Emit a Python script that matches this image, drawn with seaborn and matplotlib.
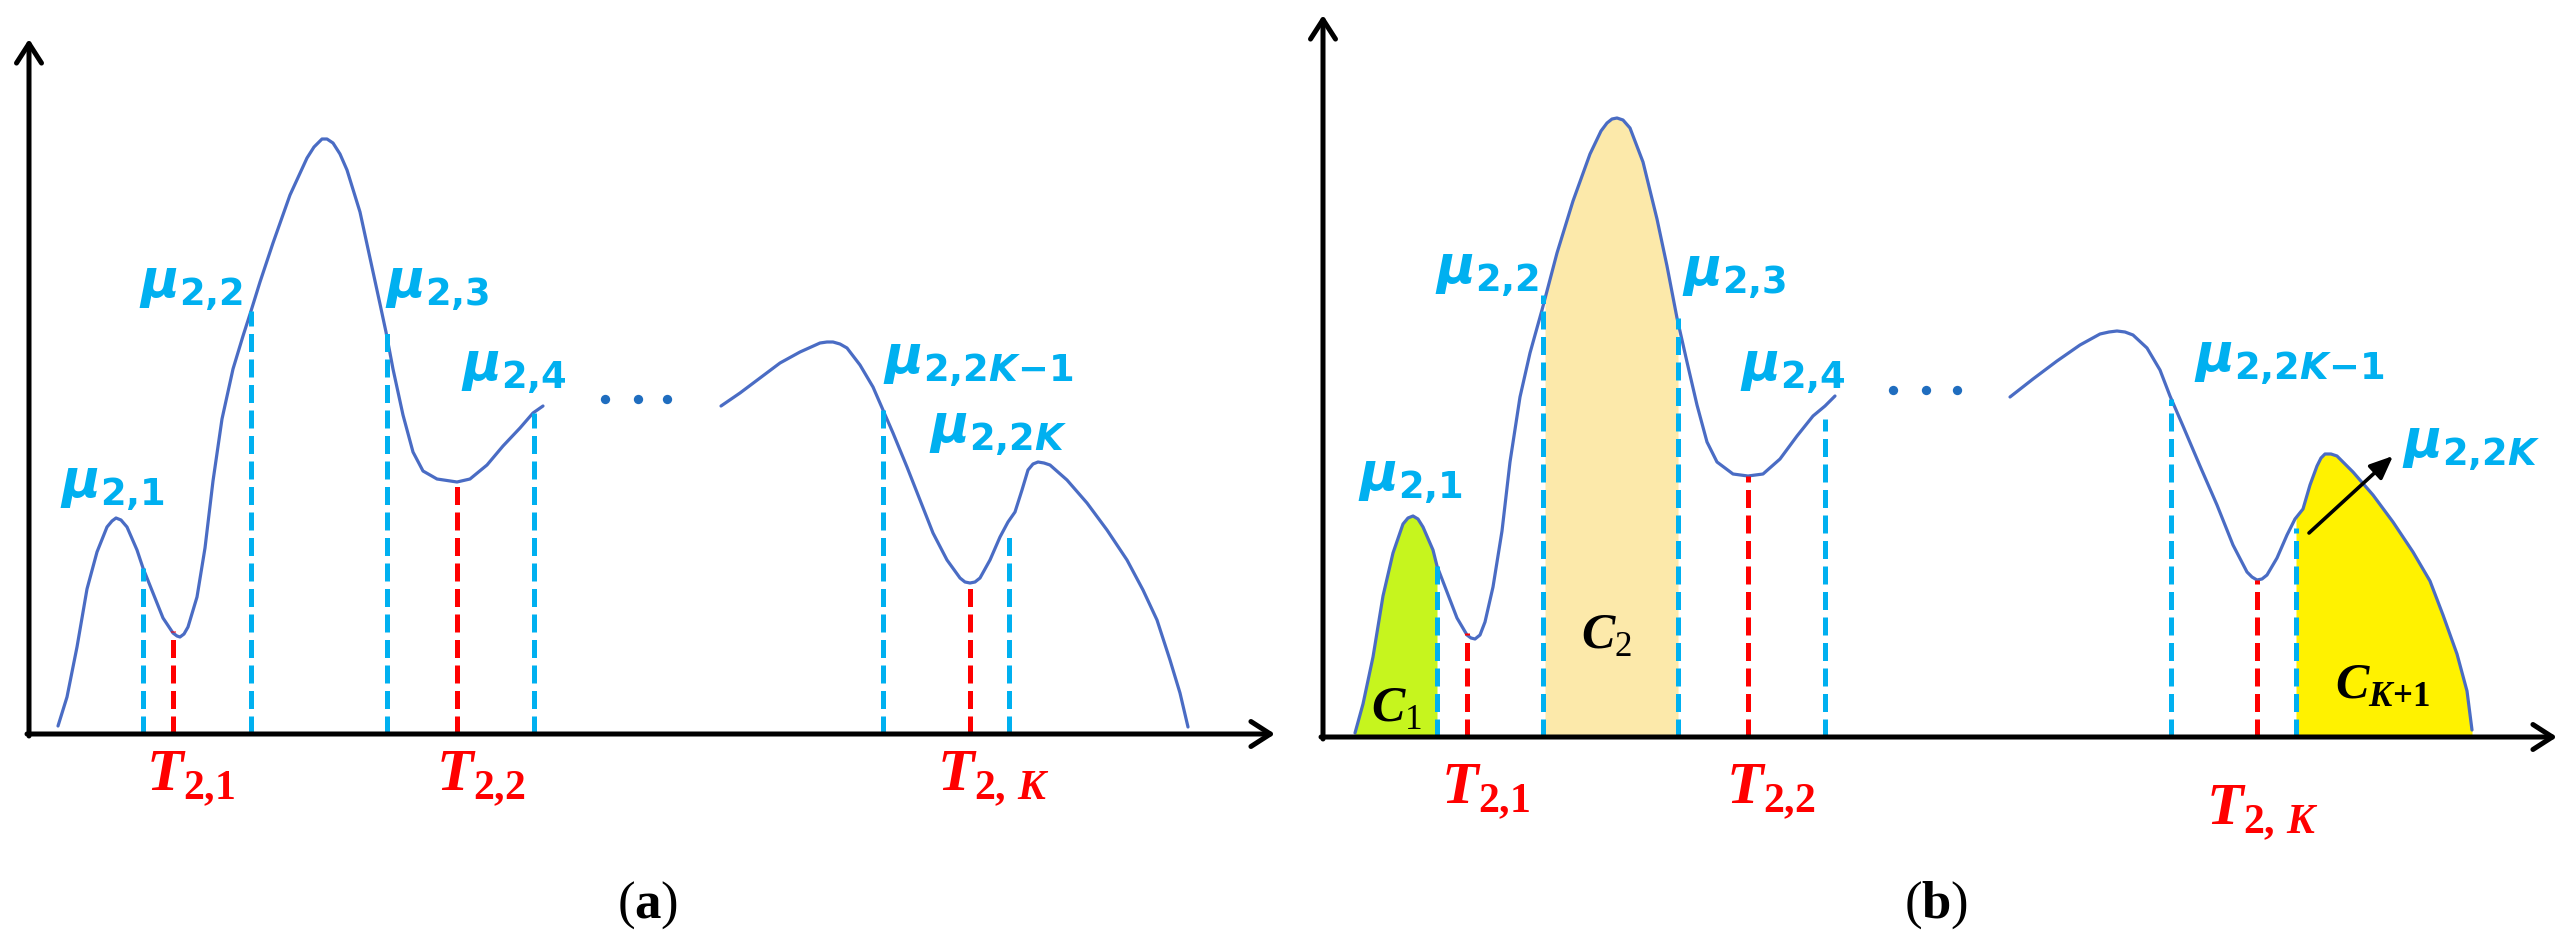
import numpy as np
import matplotlib
matplotlib.use("Agg")
import matplotlib.pyplot as plt
import seaborn as sns

sns.set_theme(style="white")
plt.rcParams["font.family"] = ["DejaVu Sans"]
plt.rcParams["mathtext.fontset"] = "custom"
plt.rcParams["mathtext.it"] = "DejaVu Sans:italic:bold"
plt.rcParams["mathtext.rm"] = "DejaVu Sans:bold"
plt.rcParams["mathtext.bf"] = "Liberation Serif:italic:bold"
plt.rcParams["mathtext.cal"] = "Liberation Serif:bold"
plt.rcParams["mathtext.tt"] = "Liberation Serif"

# ---------------- data (panel-local units: x right of y-axis, y above x-axis) ----------------
# Panel (a) curve, first segment
a_seg1_x = [29, 38, 48, 58, 68, 78, 83, 87, 92, 98, 108, 114, 124, 134, 144, 148, 151, 155, 159, 168, 176,
            184, 193, 204, 214, 222, 231, 244, 261, 278, 285, 293, 298, 304, 311, 318, 331, 341, 351, 357,
            364, 374, 384, 394, 408, 428, 441, 458, 474, 491, 504, 514]
a_seg1_y = [8, 37, 87, 145, 182, 207, 213, 216, 214, 207, 184, 166, 141, 116, 101, 98, 97, 100, 107, 137, 186,
            253, 315, 365, 398, 423, 452, 491, 539, 576, 587, 595, 595, 591, 580, 564, 522, 476, 430, 402,
            365, 319, 282, 263, 255, 252, 255, 269, 288, 306, 321, 328]
# Panel (a) curve, second segment
a_seg2_x = [692, 711, 731, 751, 771, 791, 798, 804, 811, 818, 831, 844, 854, 864, 878, 891, 904, 918, 931,
            936, 941, 946, 951, 961, 971, 979, 986, 993, 999, 1004, 1009, 1015, 1021, 1038, 1058, 1078,
            1098, 1114, 1128, 1141, 1151, 1159]
a_seg2_y = [328, 341, 356, 371, 382, 391, 392, 392, 390, 386, 369, 347, 324, 301, 267, 234, 201, 174, 156,
            152, 151, 152, 156, 174, 197, 212, 222, 244, 264, 270, 272, 271, 269, 254, 231, 204, 174, 144,
            114, 74, 41, 7]
a_mu_x = [114, 222, 358, 505, 854, 980]
a_mu_top = [166, 423, 402, 321, 324, 201]
a_T_x = [144, 428, 941]
a_T_top = [103, 253, 151]
a_dots_x = [576, 609, 638]
a_dots_y = [335, 335, 335]

# Panel (b) curve, first segment
b_seg1_x = [32, 40, 50, 60, 70, 80, 85, 90, 95, 100, 110, 114, 124, 134, 144, 148, 152, 157, 162, 170, 179,
            187, 197, 207, 219, 234, 250, 267, 278, 284, 289, 294, 300, 307, 320, 334, 344, 354, 364, 374,
            384, 394, 410, 425, 440, 457, 474, 490, 502, 512]
b_seg1_y = [4, 33, 80, 141, 184, 213, 219, 221, 218, 210, 187, 171, 145, 119, 102, 99, 98, 102, 115, 150, 206,
            275, 340, 384, 427, 484, 536, 583, 606, 614, 618, 619, 617, 609, 575, 518, 471, 419, 375, 332,
            295, 275, 263, 261, 263, 278, 301, 321, 331, 341]
# Panel (b) curve, second segment
b_seg2_x = [687, 710, 734, 757, 777, 786, 794, 802, 810, 824, 837, 847, 860, 877, 894, 910, 924, 929, 934,
            939, 944, 954, 964, 972, 980, 987, 994, 998, 1002, 1008, 1014, 1030, 1050, 1070, 1090, 1107,
            1120, 1134, 1144, 1149]
b_seg2_y = [340, 358, 376, 392, 403, 405, 406, 405, 402, 389, 367, 341, 311, 271, 232, 192, 165, 160, 157,
            158, 162, 179, 202, 218, 228, 252, 271, 279, 283, 283, 281, 265, 242, 215, 185, 156, 122, 83,
            46, 7]
b_mu_x = [114, 220, 355, 502, 848, 973]
b_mu_top = [171, 442, 419, 318, 338, 209]
b_T_x = [144, 425, 934]
b_T_top = [104, 261, 157]
b_dots_x = [570, 603, 634]
b_dots_y = [347, 347, 347]
b_fill_ranges = [(32, 114), (222, 355), (973, 1149)]
b_fill_colors = ["#c6f51e", "#fce9aa", "#fff200"]

mu_labels = [r"$\mu_{2{,}1}$", r"$\mu_{2{,}2}$", r"$\mu_{2{,}3}$",
             r"$\mu_{2{,}4}$", r"$\mu_{2{,}2K{-}1}$", r"$\mu_{2{,}2K}$"]
a_mu_pos = [(84, 247), (162, 447), (408, 447), (485, 364), (949, 371), (969, 302)]
b_mu_pos = [(88, 257), (164, 464), (411, 462), (470, 367), (966, 376), (1148, 290)]
T_labels = [r"$\mathbf{T}_{\mathcal{2{,}1}}$", r"$\mathbf{T}_{\mathcal{2{,}2}}$",
            r"$\mathbf{T}_{\mathcal{2{,}}\;\mathbf{K}}$"]
a_T_pos = [(162, -46), (452, -46), (964, -46)]
b_T_pos = [(163, -56), (448, -56), (939, -77)]
C_labels = [r"$\mathbf{C}_{\mathtt{1}}$", r"$\mathbf{C}_{\mathtt{2}}$",
            r"$\mathbf{C}_{\mathbf{K}\mathcal{{+}1}}$"]
C_pos = [(74, 29), (284, 102), (1059, 52)]

CURVE = "#4a6cc4"
CYAN = "#00b0f0"
RED = "#ff0000"

fig = plt.figure(figsize=(25.73, 9.44), dpi=100)
# panel a: origin at pixel (29, 734); panel b: origin at pixel (1323, 737)
ax_a = fig.add_axes([0, 0, 0.5, 1])
ax_b = fig.add_axes([0.5, 0, 0.5, 1])
ax_a.set_xlim(-29, 1286.5 - 29)
ax_a.set_ylim(734 - 944, 734)
ax_b.set_xlim(1286.5 - 1323, 2573 - 1323)
ax_b.set_ylim(737 - 944, 737)
for ax in (ax_a, ax_b):
    ax.set_axis_off()


def curve(ax, xs, ys):
    sns.lineplot(x=xs, y=ys, sort=False, estimator=None, ax=ax, color=CURVE, lw=2.3,
                 solid_capstyle="round", solid_joinstyle="round", zorder=4)


def dashes(ax, xs, tops, color):
    for x, t in zip(xs, tops):
        ax.plot([x, x], [0, t], color=color, lw=3.6, ls=(0, (3.6, 1.5)), zorder=5,
                dash_capstyle="butt")


def axes_arrows(ax, xend, ytop):
    kw = dict(arrowstyle="->,head_length=0.7,head_width=0.45", lw=3.6, color="black",
              shrinkA=0, shrinkB=0, mutation_scale=20)
    ax.annotate("", xy=(xend, 0), xytext=(-2, 0), arrowprops=kw, zorder=6)
    ax.annotate("", xy=(0, ytop), xytext=(0, -2), arrowprops=kw, zorder=6)


def paren_label(ax, x, y, letter):
    ax.text(x, y, r"$\mathtt{(}\mathcal{" + letter + r"}\mathtt{)}$", fontsize=38,
            ha="center", va="center", color="black")


# ---- panel (a)
curve(ax_a, a_seg1_x, a_seg1_y)
curve(ax_a, a_seg2_x, a_seg2_y)
dashes(ax_a, a_mu_x, a_mu_top, CYAN)
dashes(ax_a, a_T_x, a_T_top, RED)
ax_a.scatter(a_dots_x, a_dots_y, s=45, color="#1f6dbf", zorder=5, linewidths=0)
axes_arrows(ax_a, 1246, 695)
for lab, (x, y) in zip(mu_labels, a_mu_pos):
    ax_a.text(x, y, lab, color=CYAN, fontsize=38, ha="center", va="center")
for lab, (x, y) in zip(T_labels, a_T_pos):
    ax_a.text(x, y, lab, color=RED, fontsize=43, ha="center", va="center")
paren_label(ax_a, 619, -171, "a")

# ---- panel (b)
bx1 = np.array(b_seg1_x, float)
by1 = np.array(b_seg1_y, float)
bx2 = np.array(b_seg2_x, float)
by2 = np.array(b_seg2_y, float)
for (lo, hi), col in zip(b_fill_ranges, b_fill_colors):
    src_x, src_y = (bx1, by1) if hi < 600 else (bx2, by2)
    inside = (src_x > lo) & (src_x < hi)
    xs = np.concatenate([[lo], src_x[inside], [hi]])
    ys = np.concatenate([[np.interp(lo, src_x, src_y)], src_y[inside], [np.interp(hi, src_x, src_y)]])
    ax_b.fill_between(xs, 0, ys, color=col, lw=0, zorder=2)
curve(ax_b, b_seg1_x, b_seg1_y)
curve(ax_b, b_seg2_x, b_seg2_y)
dashes(ax_b, b_mu_x, b_mu_top, CYAN)
dashes(ax_b, b_T_x, b_T_top, RED)
ax_b.scatter(b_dots_x, b_dots_y, s=45, color="#1f6dbf", zorder=5, linewidths=0)
axes_arrows(ax_b, 1234, 722)
for lab, (x, y) in zip(mu_labels, b_mu_pos):
    ax_b.text(x, y, lab, color=CYAN, fontsize=38, ha="center", va="center")
for lab, (x, y) in zip(T_labels, b_T_pos):
    ax_b.text(x, y, lab, color=RED, fontsize=43, ha="center", va="center")
for lab, (x, y) in zip(C_labels, C_pos):
    ax_b.text(x, y, lab, color="black", fontsize=36, ha="center", va="center", zorder=6)
ax_b.annotate("", xy=(1070, 281), xytext=(986, 204),
              arrowprops=dict(arrowstyle="-|>,head_length=0.7,head_width=0.3", lw=2.6, color="black",
                              shrinkA=0, shrinkB=0, mutation_scale=20), zorder=7)
paren_label(ax_b, 613, -168, "b")

fig.savefig("out.png", dpi=100, facecolor="white")
